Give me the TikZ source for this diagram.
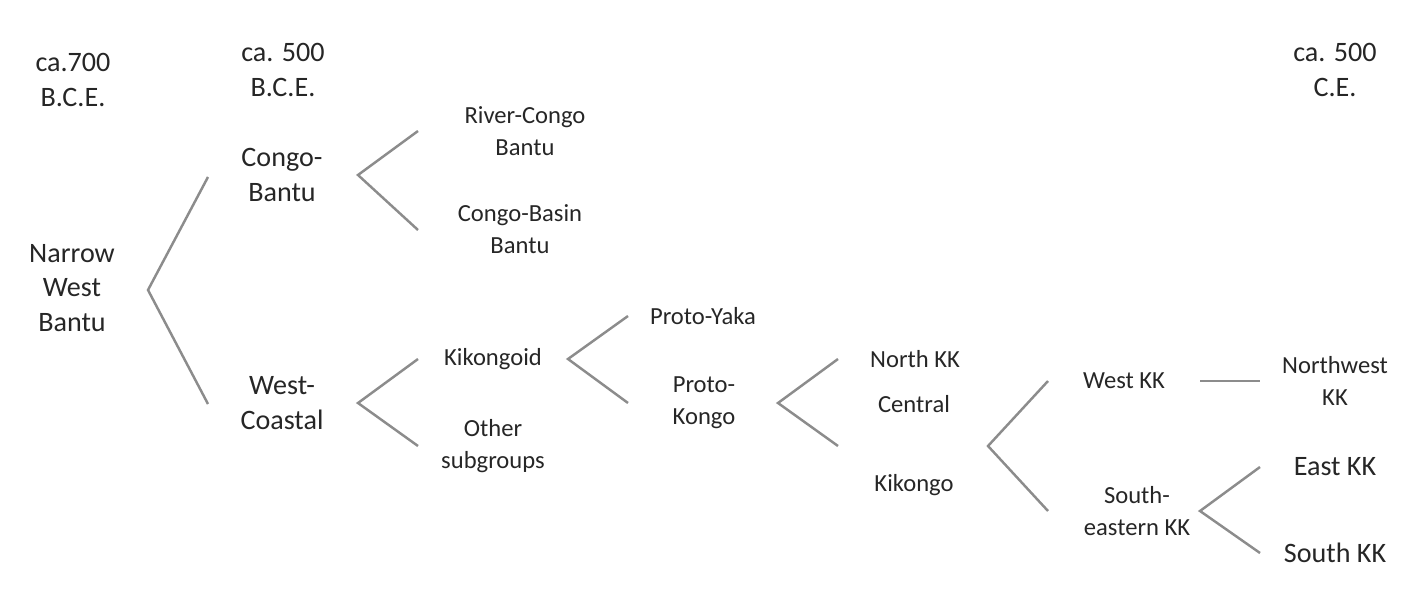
\documentclass[tikz,border=0pt]{standalone}
\usepackage{fontspec}
\setmainfont{Carlito}
\begin{document}
\begin{tikzpicture}[x=0.02cm,y=-0.02cm,
    big/.style={align=center,font=\fontsize{16}{19.5}\selectfont,text=black!85},
    small/.style={align=center,font=\fontsize{14}{18}\selectfont,text=black!85},
    branch/.style={draw=black!45,line width=1.4pt}]
\useasboundingbox (0,0) rectangle (1422,588);
% dates
\node[big] (d1) at (73,80) {ca.700\\B.C.E.};
\node[big] (d2) at (283,70) {ca. 500\\B.C.E.};
\node[big] (d3) at (1335,70) {ca. 500\\C.E.};
% languages
\node[big] (nwb) at (72,288) {Narrow\\West\\Bantu};
\node[big] (cb) at (282,175) {Congo-\\Bantu};
\node[big] (wc) at (282,403) {West-\\Coastal};
\node[small] (rcb) at (525,131) {River-Congo\\Bantu};
\node[small] (cbb) at (520,229) {Congo-Basin\\Bantu};
\node[small] (kid) at (493,359) {Kikongoid};
\node[small] (oth) at (493,446) {Other\\subgroups};
\node[small] (py) at (703,316) {Proto-Yaka};
\node[small] (pk) at (704,403) {Proto-\\Kongo};
\node[small] (nkk) at (915,359) {North KK};
\node[small,font=\fontsize{14}{45}\selectfont] (ck) at (914,446) {Central\\Kikongo};
\node[small] (wkk) at (1124,381) {West KK};
\node[small] (nwkk) at (1335,381) {Northwest\\KK};
\node[small] (sekk) at (1137,511) {South-\\eastern KK};
\node[big] (ekk) at (1335,467) {East KK};
\node[big] (skk) at (1335,553) {South KK};
% branch points
\coordinate (f1) at (148,290); \coordinate (f1a) at (208,177); \coordinate (f1b) at (208,404);
\coordinate (f2) at (358,175); \coordinate (f2a) at (418,131); \coordinate (f2b) at (418,230);
\coordinate (f3) at (358,403); \coordinate (f3a) at (418,359); \coordinate (f3b) at (418,446);
\coordinate (f4) at (568,359); \coordinate (f4a) at (628,316); \coordinate (f4b) at (628,403);
\coordinate (f5) at (778,403); \coordinate (f5a) at (838,359); \coordinate (f5b) at (838,446);
\coordinate (f6) at (988,446); \coordinate (f6a) at (1048,381); \coordinate (f6b) at (1048,511);
\coordinate (f7) at (1200,381); \coordinate (f7a) at (1260,381);
\coordinate (f8) at (1200,511); \coordinate (f8a) at (1260,467); \coordinate (f8b) at (1260,553);
\foreach \f in {f1,f2,f3,f4,f5,f6,f8}
  \draw[branch] (\f a) -- (\f) -- (\f b);
\draw[branch] (f7) -- (f7a);
\end{tikzpicture}
\end{document}
